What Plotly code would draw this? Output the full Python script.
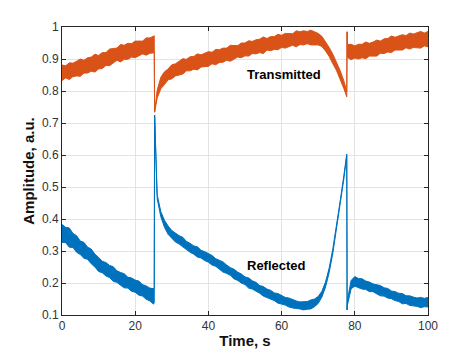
import numpy as np
import plotly.graph_objects as go

# ---------------- data ----------------
time_s = sorted(list(range(0, 26)) + [25.2, 25.3, 25.6] + list(range(26, 78))
                + [77.8, 77.9] + list(range(78, 101)))

transmitted_center = [
    .857, .86, .862, .866, .87, .873, .876, .88, .884, .887, .89, .895, .90,
    .905, .91, .915, .918, .921, .924, .927, .93, .933, .936, .939, .942, .945,
    .948, .734, .765,
    .79, .825, .84, .852, .86, .866, .872, .877, .881, .885,
    .888, .891, .894, .897, .90, .903, .906, .909, .912, .915,
    .918, .921, .924, .927, .93, .933, .936, .938, .941, .943,
    .946, .948, .95, .953, .955, .957, .959, .961, .963, .965,
    .966, .967, .967, .965, .962, .955, .94, .922, .90, .877,
    .85, .82,
    .79, .985,
    .925, .922, .922, .923, .925, .927, .929, .931, .934, .937,
    .94, .943, .946, .948, .95, .952, .954, .956, .957, .958,
    .96, .961, .962,
]
transmitted_spread = [
    .024, .019, .026, .021, .023, .027, .02, .024, .022, .028, .021, .025, .02,
    .026, .023, .019, .027, .022, .025, .021, .026, .023, .02, .027, .024, .026,
    .025, 0, .008,
    .012, .018, .02, .017, .022, .019, .021, .024, .018, .022,
    .02, .025, .019, .021, .023, .018, .024, .02, .022, .019,
    .025, .021, .018, .023, .02, .024, .019, .022, .021, .026,
    .018, .022, .02, .024, .019, .023, .021, .018, .025, .02,
    .022, .019, .023, .02, .018, .016, .015, .014, .015, .013,
    .014, .012,
    .008, 0,
    .02, .024, .019, .023, .021, .026, .02, .022, .025, .019,
    .023, .021, .026, .02, .022, .024, .019, .025, .021, .023,
    .026, .02, .024,
]
reflected_center = [
    .355, .35, .342, .333, .322, .31, .302, .293, .283, .27, .258, .25, .243,
    .236, .228, .22, .213, .207, .201, .195, .19, .184, .177, .17, .164, .158,
    .16, .725, .60,
    .47, .415, .385, .365, .352, .342, .335, .328, .318, .31,
    .303, .297, .29, .284, .278, .271, .264, .257, .25, .243,
    .236, .228, .221, .214, .207, .2, .194, .188, .18, .174,
    .168, .163, .157, .152, .147, .143, .139, .135, .132, .13,
    .129, .13, .133, .138, .147, .165, .195, .24, .30, .37,
    .45, .53,
    .60, .116,
    .14, .195, .205, .2, .197, .193, .188, .185, .18, .176,
    .172, .168, .163, .159, .155, .151, .148, .145, .142, .14,
    .139, .139, .14,
]
reflected_spread = [
    .028, .024, .03, .022, .026, .021, .025, .019, .023, .02, .022, .018, .021,
    .019, .023, .018, .02, .022, .017, .021, .019, .022, .018, .021, .02, .024,
    .022, 0, .004,
    .006, .008, .011, .013, .012, .014, .013, .015, .012, .014,
    .013, .016, .012, .014, .013, .015, .012, .014, .016, .013,
    .012, .015, .013, .014, .012, .016, .013, .014, .012, .015,
    .013, .014, .012, .015, .013, .012, .014, .013, .012, .011,
    .013, .012, .014, .012, .011, .009, .008, .007, .007, .006,
    .006, .005,
    .003, 0,
    .008, .013, .015, .014, .016, .013, .015, .012, .014, .016,
    .013, .015, .012, .014, .013, .016, .012, .015, .014, .013,
    .016, .013, .015,
]

x_ticks = [0, 20, 40, 60, 80, 100]
x_tick_labels = ["0", "20", "40", "60", "80", "100"]
y_ticks = [0.1, 0.2, 0.3, 0.4, 0.5, 0.6, 0.7, 0.8, 0.9, 1.0]
y_tick_labels = ["0.1", "0.2", "0.3", "0.4", "0.5", "0.6", "0.7", "0.8", "0.9", "1"]

labels = {"Transmitted": (60.7, 0.853), "Reflected": (58.6, 0.256)}

ORANGE = "#D95319"
BLUE = "#0072BD"
FONT = "Liberation Sans, Arial, sans-serif"

# ---------------- figure ----------------
fig = go.Figure()


def band(center, spread, color, name):
    t = np.array(time_s, dtype=float)
    c = np.array(center)
    s = np.array(spread)
    up = c + s
    lo = c - s
    xs = np.concatenate([t, t[::-1]])
    ys = np.concatenate([up, lo[::-1]])
    fig.add_trace(go.Scatter(x=xs, y=ys, mode="lines", fill="toself",
                             fillcolor=color, line=dict(color=color, width=1),
                             name=name, showlegend=False, hoverinfo="skip"))


band(reflected_center, reflected_spread, BLUE, "Reflected")
band(transmitted_center, transmitted_spread, ORANGE, "Transmitted")

for txt, (xx, yy) in labels.items():
    fig.add_annotation(x=xx, y=yy, text=f"<b>{txt}</b>", showarrow=False,
                       font=dict(family=FONT, size=13, color="black"))

axis_common = dict(showline=True, linecolor="#262626", linewidth=1, mirror="ticks",
                   ticks="inside", ticklen=4, tickcolor="#262626", automargin=False,
                   showgrid=True, gridcolor="#e3e3e3", gridwidth=1, zeroline=False,
                   tickfont=dict(family=FONT, size=12, color="#333333"))

fig.update_xaxes(range=[0, 100], tickvals=x_ticks, ticktext=x_tick_labels,
                 title=dict(text="<b>Time, s</b>", standoff=3,
                            font=dict(family=FONT, size=15, color="#111111")),
                 **axis_common)
fig.update_yaxes(range=[0.1, 1.0], tickvals=y_ticks, ticktext=y_tick_labels,
                 title=dict(text="<b>Amplitude, a.u.</b>", standoff=3,
                            font=dict(family=FONT, size=15, color="#111111")),
                 **axis_common)

# page body has an 8px default margin, so the figure is sized to fit inside it
fig.update_layout(width=466, height=347, margin=dict(l=54, r=46, t=19, b=40),
                  plot_bgcolor="white", paper_bgcolor="white", showlegend=False)

fig.write_html("out.html")
